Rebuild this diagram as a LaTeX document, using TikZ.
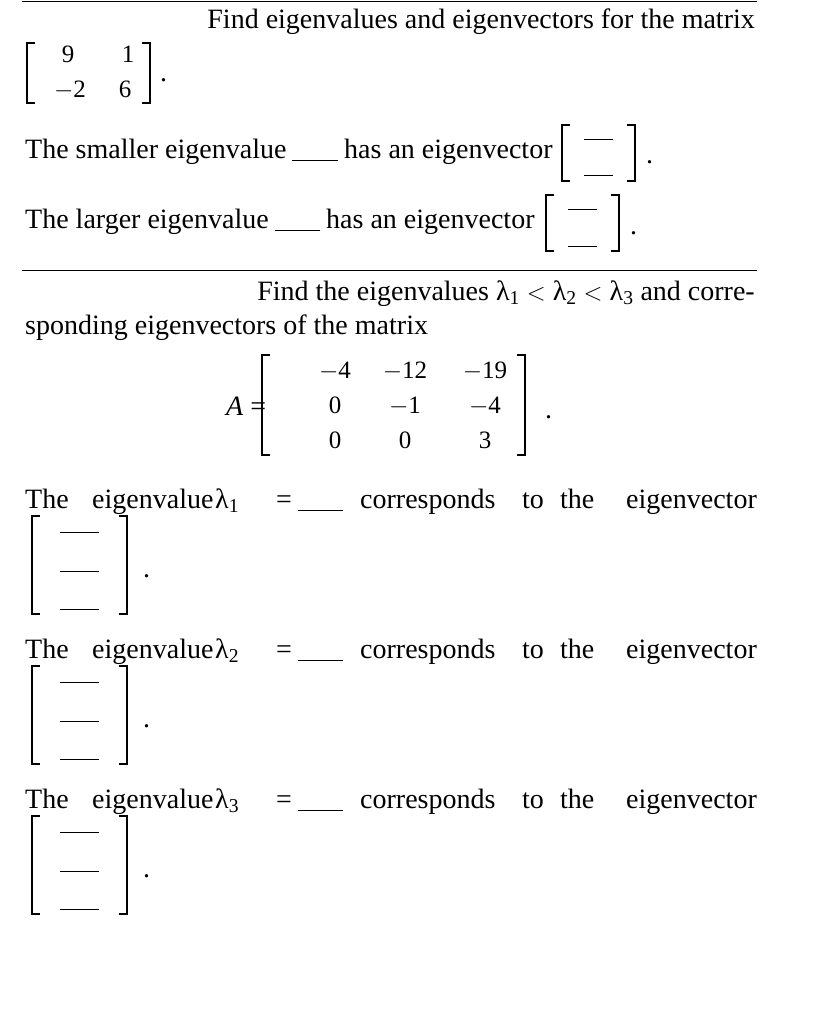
\documentclass[tikz,border=0pt]{standalone}
\usepackage{fontspec}
\setmainfont{Liberation Serif}
\begin{document}
\begin{tikzpicture}[x=1pt,y=-1pt,
  t/.style={anchor=base west,inner sep=0pt,font=\fontsize{28}{32}\selectfont},
  tr/.style={anchor=base east,inner sep=0pt,font=\fontsize{28}{32}\selectfont},
  m/.style={anchor=base,inner sep=0pt,font=\fontsize{25}{28}\selectfont},
  ln/.style={line width=1pt},
  br/.style={line width=1.1pt}]
\useasboundingbox (0,0) rectangle (837,1024);
\newcommand{\lbr}[3]{\draw[br] (#1+8,#2) -- (#1,#2) -- (#1,#3) -- (#1+8,#3);}
\newcommand{\rbr}[3]{\draw[br] (#1-8,#2) -- (#1,#2) -- (#1,#3) -- (#1-8,#3);}
\newcommand{\vecbox}[6]{% x1 x2 ytop ybot dash inset list of dash ys
  \lbr{#1}{#3}{#4}\rbr{#2}{#3}{#4}
  \foreach \yy in {#6} {\draw[ln] (#1+#5,\yy) -- (#2-#5,\yy);}}
% first problem
\draw[ln] (22,2) -- (757,2);
\node[tr] (f1) at (755,29) {Find eigenvalues and eigenvectors for the matrix};
\lbr{27}{43}{103}\rbr{150}{43}{103}
\node[m] (a11) at (68,63) {9};
\node[m] (a12) at (128,63) {1};
\node[m] (a21) at (70,98) {$-$2};
\node[m] (a22) at (125,98) {6};
\node[t] (d0) at (160,82) {.};
\node[t] (s1) at (25,159) {The smaller eigenvalue};
\draw[ln] (292,161) -- (338,161);
\node[t] (s2) at (344,159) {has an eigenvector};
\vecbox{562}{635}{125}{181}{22}{140,176}
\node[t] (d1) at (646,164) {.};
\node[t] (l1) at (25,229) {The larger eigenvalue};
\draw[ln] (275,231) -- (320,231);
\node[t] (l2) at (326,229) {has an eigenvector};
\vecbox{546}{619}{195}{251}{22}{210,246}
\node[t] (d2) at (630,234) {.};
% second problem
\draw[ln] (22,270) -- (757,270);
\node[tr] (f2) at (755,300) {Find the eigenvalues λ\textsubscript{1} $<$ λ\textsubscript{2} $<$ λ\textsubscript{3} and corre-};
\node[t] (f3) at (25,334) {sponding eigenvectors of the matrix};
\node[t] (A) at (226,415) {\textit{A} =};
\lbr{262}{355}{455}\rbr{525}{355}{455}
\node[m] at (335,378) {$-$4};
\node[m] at (405,378) {$-$12};
\node[m] at (485,378) {$-$19};
\node[m] at (335,413) {0};
\node[m] at (405,413) {$-$1};
\node[m] at (485,413) {$-$4};
\node[m] at (335,448) {0};
\node[m] at (405,448) {0};
\node[m] at (485,448) {3};
\node[t] (d3) at (545,418) {.};
\foreach \k/\yb in {1/508,2/658,3/808}{
  \node[t] at (25,\yb) {The};
  \node[t] at (92,\yb) {eigenvalue};
  \node[t] at (215,\yb) {λ\textsubscript{\k}};
  \node[t] at (276,\yb) {=};
  \draw[ln] (298,\yb+2) -- (343,\yb+2);
  \node[t] at (360,\yb) {corresponds};
  \node[t] at (522,\yb) {to};
  \node[t] at (560,\yb) {the};
  \node[tr] at (757,\yb) {eigenvector};
  \vecbox{32}{127}{\yb+8}{\yb+106}{28}{\yb+24,\yb+63,\yb+101}
  \node[t] at (143,\yb+69) {.};
}
\end{tikzpicture}
\end{document}
